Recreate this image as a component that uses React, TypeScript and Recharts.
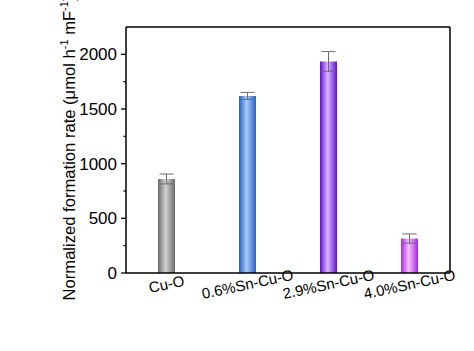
import React from "react";
import { BarChart, Bar, XAxis, YAxis, ErrorBar, Cell } from "recharts";

const categories = ["Cu-O", "0.6%Sn-Cu-O", "2.9%Sn-Cu-O", "4.0%Sn-Cu-O"];
const rates = [860, 1620, 1935, 315];
const errors = [45, 32, 90, 42];
const yMax = 2250;
const yTicks = [0, 250, 500, 750, 1000, 1250, 1500, 1750, 2000];
const majorStep = 500;

const gradients = [
  { id: "g0", edge: "#6a6a6a", mid: "#d2d2d2" },
  { id: "g1", edge: "#2a5ec4", mid: "#a9caf7" },
  { id: "g2", edge: "#5e0fcf", mid: "#dcb6ff" },
  { id: "g3", edge: "#ad24e2", mid: "#f2c0ff" },
];

const data = categories.map((c, i) => ({ name: c, rate: rates[i], err: errors[i], frame: null }));

const FONT = "'Liberation Sans', Arial, Helvetica, sans-serif";
const TICK_SIZE = 5;
const TICK_MARGIN = 4;
const CHART_W = 474;
const CHART_H = 351;
const MARGIN = { top: 26, right: 23, left: 0, bottom: 38 };
const X_AXIS_H = 40;
const Y_AXIS_W = 126;

const YTick = (props: any) => {
  const { x, y, payload } = props;
  const axisX = x + TICK_MARGIN + TICK_SIZE;
  const major = payload.value % majorStep === 0;
  const x1 = major ? x + TICK_MARGIN : x + TICK_MARGIN + TICK_SIZE / 2;
  return (
    <g>
      <line x1={x1} x2={axisX} y1={y} y2={y} stroke="#000" strokeWidth={1.3} />
      {major && (
        <text x={x} y={y} dy="0.36em" textAnchor="end" fontSize={17} fontFamily={FONT} fill="#000">
          {payload.value}
        </text>
      )}
    </g>
  );
};

const XTick = (props: any) => {
  const { x, y, payload } = props;
  return (
    <g transform={`translate(${x},${y + 3})`}>
      <text x={0} y={0} dy="0.36em" textAnchor="middle" transform="rotate(-12)" fontSize={15} fontFamily={FONT} fill="#000">
        {payload.value}
      </text>
    </g>
  );
};

const YLabel = (props: any) => {
  const { viewBox } = props;
  const cx = 75;
  const cy = viewBox.y + viewBox.height / 2 - 2;
  return (
    <text
      x={cx}
      y={cy}
      textAnchor="middle"
      transform={`rotate(-90, ${cx}, ${cy})`}
      fontSize={16.6}
      fontFamily={FONT}
      fill="#000"
    >
      Normalized formation rate (μmol h
      <tspan dy={-7} fontSize={11}>-1</tspan>
      <tspan dy={7}> mF</tspan>
      <tspan dy={-7} fontSize={11}>-1</tspan>
      <tspan dy={7}>)</tspan>
    </text>
  );
};

const axisStyle = { stroke: "#000", strokeWidth: 1.5 };

export default function App() {
  return (
    <div style={{ position: "absolute", left: 0, top: 0, width: CHART_W, height: CHART_H, background: "#fff" }}>
      <BarChart width={CHART_W} height={CHART_H} data={data} margin={MARGIN}>
        <defs>
          {gradients.map((g) => (
            <linearGradient key={g.id} id={g.id} x1="0" y1="0" x2="1" y2="0">
              <stop offset="0%" stopColor={g.edge} />
              <stop offset="45%" stopColor={g.mid} />
              <stop offset="100%" stopColor={g.edge} />
            </linearGradient>
          ))}
        </defs>
        <XAxis
          dataKey="name"
          height={X_AXIS_H}
          tickLine={false}
          axisLine={axisStyle}
          tick={<XTick />}
          interval={0}
        />
        <XAxis
          xAxisId="top"
          dataKey="name"
          orientation="top"
          height={1}
          tick={false}
          tickLine={false}
          axisLine={axisStyle}
        />
        <YAxis
          width={Y_AXIS_W}
          domain={[0, yMax]}
          ticks={yTicks}
          interval={0}
          tickSize={TICK_SIZE}
          tickMargin={TICK_MARGIN}
          tickLine={{ stroke: "none" }}
          axisLine={axisStyle}
          tick={<YTick />}
          label={<YLabel />}
        />
        <YAxis
          yAxisId="right"
          orientation="right"
          width={1}
          domain={[0, yMax]}
          tick={false}
          tickLine={false}
          axisLine={axisStyle}
        />
        <Bar dataKey="rate" barSize={17} isAnimationActive={false}>
          {data.map((d, i) => (
            <Cell key={d.name} fill={`url(#${gradients[i].id})`} />
          ))}
          <ErrorBar dataKey="err" width={7} stroke="#6b6b6b" strokeWidth={1} />
        </Bar>
        <Bar dataKey="frame" xAxisId="top" yAxisId="right" isAnimationActive={false} legendType="none" />
      </BarChart>
    </div>
  );
}
